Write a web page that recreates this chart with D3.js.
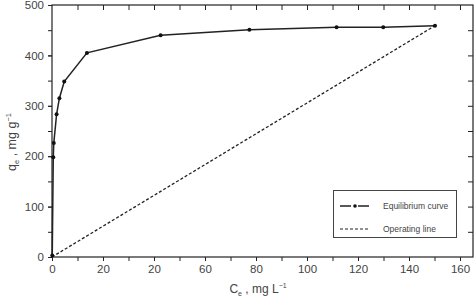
<!DOCTYPE html>
<html><head><meta charset="utf-8">
<script src="https://cdn.jsdelivr.net/npm/d3@7/dist/d3.min.js"></script>
<style>body{margin:0;background:#fff}svg{display:block}text{font-family:"Liberation Sans",Arial,sans-serif}</style>
</head><body><svg id="c" width="474" height="300"></svg>
<script>
const ce = [0.1, 0.5, 0.7, 1.8, 2.9, 4.8, 13.7, 42.6, 77.4, 111.6, 129.9, 150.2];
const qe = [3, 198, 226, 283, 315, 348, 405, 440, 451, 456, 456, 459];
const opX = [0, 150.2];
const opY = [0, 459];
const xTickValues = [0, 20, 40, 60, 80, 100, 120, 140, 160];
const xTickLabels = ["0", "20", "20", "60", "80", "100", "120", "140", "160"];
const yTickValues = [0, 100, 200, 300, 400, 500];
const yTickLabels = ["0", "100", "200", "300", "400", "500"];
const legendLabels = ["Equilibrium curve", "Operating line"];

const svg = d3.select("#c");
const L = 52, T = 5, R = 473, B = 257;
const x = d3.scaleLinear().domain([0, 160]).range([L, 460]);
const y = d3.scaleLinear().domain([0, 500]).range([B, T]);
const axisCol = "#222", textCol = "#444";

svg.append("rect").attr("x", L).attr("y", T).attr("width", R - L).attr("height", B - T)
  .attr("fill", "none").attr("stroke", axisCol).attr("stroke-width", 1.2);

const minorX = d3.range(0, 161, 10), minorY = d3.range(0, 501, 50);
const bx = svg.append("g").attr("transform", `translate(0,${B})`)
  .call(d3.axisBottom(x).tickValues(minorX).tickSize(4).tickFormat(""));
bx.select(".domain").remove();
bx.selectAll("line").attr("stroke", axisCol);
const bl = svg.append("g").attr("transform", `translate(0,${B})`)
  .call(d3.axisBottom(x).tickValues(xTickValues).tickSize(4).tickPadding(4)
    .tickFormat((d, i) => xTickLabels[i]));
bl.select(".domain").remove();
bl.selectAll("line").attr("stroke", axisCol);
bl.selectAll("text").attr("fill", textCol).attr("font-size", 11.5).attr("font-family", "Liberation Sans, Arial, sans-serif");
const tx = svg.append("g").attr("transform", `translate(0,${T})`)
  .call(d3.axisTop(x).tickValues(minorX.slice(1)).tickSize(-5).tickFormat(""));
tx.select(".domain").remove();
tx.selectAll("line").attr("stroke", axisCol);
const ly = svg.append("g").attr("transform", `translate(${L},0)`)
  .call(d3.axisLeft(y).tickValues(minorY).tickSize(4).tickFormat(""));
ly.select(".domain").remove();
ly.selectAll("line").attr("stroke", axisCol);
const ll = svg.append("g").attr("transform", `translate(${L},0)`)
  .call(d3.axisLeft(y).tickValues(yTickValues).tickSize(4).tickPadding(4)
    .tickFormat((d, i) => yTickLabels[i]));
ll.select(".domain").remove();
ll.selectAll("line").attr("stroke", axisCol);
ll.selectAll("text").attr("fill", textCol).attr("font-size", 11.5).attr("font-family", "Liberation Sans, Arial, sans-serif");
const ry = svg.append("g").attr("transform", `translate(${R},0)`)
  .call(d3.axisRight(y).tickValues(minorY.slice(1, -1)).tickSize(-5).tickFormat(""));
ry.select(".domain").remove();
ry.selectAll("line").attr("stroke", axisCol);

const line = d3.line().x(d => x(d[0])).y(d => y(d[1]));
svg.append("path").datum(opX.map((v, i) => [v, opY[i]])).attr("d", line)
  .attr("fill", "none").attr("stroke", "#222").attr("stroke-width", 1.3).attr("stroke-dasharray", "3,2");
const eq = ce.map((v, i) => [v, qe[i]]);
svg.append("path").datum(eq).attr("d", line)
  .attr("fill", "none").attr("stroke", "#222").attr("stroke-width", 1.5);
svg.selectAll("circle.pt").data(eq).join("circle").attr("class", "pt")
  .attr("cx", d => x(d[0])).attr("cy", d => y(d[1])).attr("r", 2).attr("fill", "#111");

const xt = svg.append("text").attr("x", 258).attr("y", 293).attr("text-anchor", "middle")
  .attr("fill", textCol).attr("font-size", 12);
xt.append("tspan").text("C");
xt.append("tspan").attr("font-size", 7).attr("dy", 3).text("e");
xt.append("tspan").attr("dy", -3).text(" , mg L");
xt.append("tspan").attr("font-size", 7).attr("dy", -5).text("\u22121");
const yt = svg.append("text").attr("transform", "translate(16,142) rotate(-90)").attr("text-anchor", "middle")
  .attr("fill", textCol).attr("font-size", 12.5);
yt.append("tspan").text("q");
yt.append("tspan").attr("font-size", 7.5).attr("dy", 3).text("e");
yt.append("tspan").attr("dy", -3).text(" , mg g");
yt.append("tspan").attr("font-size", 7.5).attr("dy", -5).text("\u22121");

const lg = svg.append("g");
lg.append("rect").attr("x", 333.5).attr("y", 190.5).attr("width", 123).attr("height", 47)
  .attr("fill", "#fff").attr("stroke", "#444").attr("stroke-width", 1);
const rows = [206, 229];
lg.append("line").attr("x1", 340).attr("x2", 369).attr("y1", rows[0]).attr("y2", rows[0])
  .attr("stroke", "#222").attr("stroke-width", 1.5).attr("stroke-dasharray", "11,7");
lg.append("circle").attr("cx", 355).attr("cy", rows[0]).attr("r", 1.8).attr("fill", "#111");
lg.append("line").attr("x1", 340).attr("x2", 369).attr("y1", rows[1]).attr("y2", rows[1])
  .attr("stroke", "#222").attr("stroke-width", 1.2).attr("stroke-dasharray", "3,2");
lg.selectAll("text.lg").data(legendLabels).join("text").attr("class", "lg")
  .attr("x", 383).attr("y", (d, i) => rows[i]).attr("dy", "0.35em")
  .attr("font-size", 8.5).attr("fill", textCol).text(d => d);
</script></body></html>
